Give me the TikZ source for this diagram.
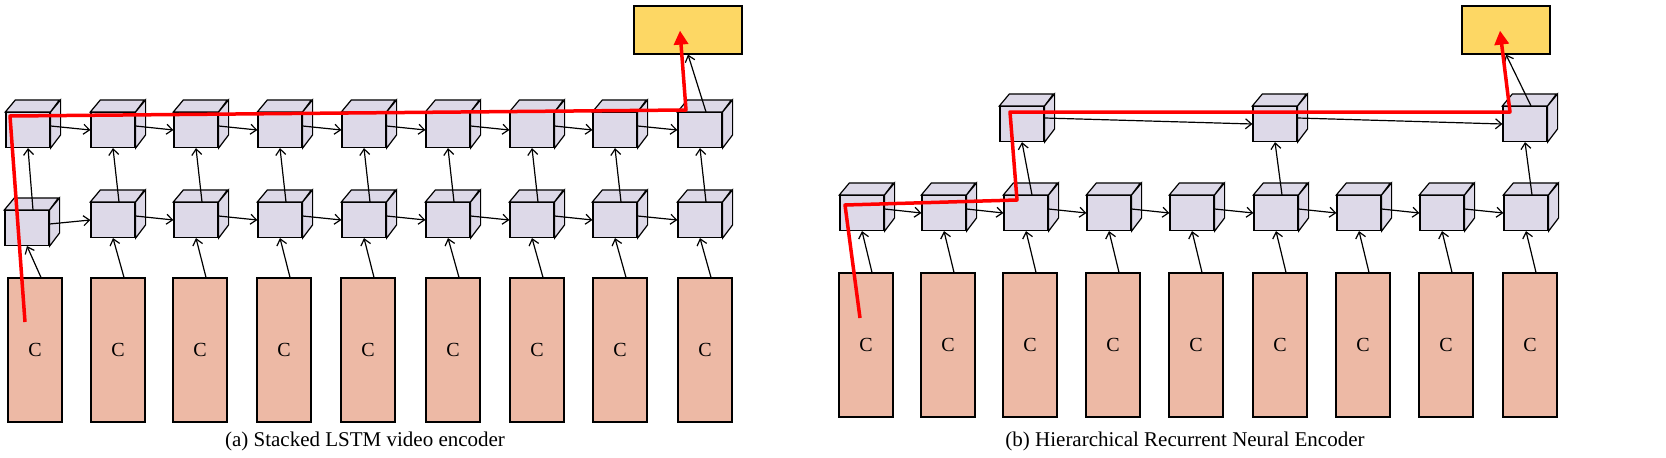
\documentclass[tikz,border=0pt]{standalone}
\usepackage{fontspec}
\setmainfont{Liberation Serif}
\usetikzlibrary{arrows.meta}
\definecolor{cubefill}{RGB}{221,217,232}
\definecolor{cfill}{RGB}{237,185,165}
\definecolor{outfill}{RGB}{253,215,100}
\tikzset{
  cube/.style={draw, fill=cubefill, line width=1.2pt, minimum width=44pt, minimum height=35pt, inner sep=0pt},
  cbox/.style={draw, fill=cfill, line width=1.2pt, minimum width=54pt, minimum height=144pt, inner sep=0pt, font=\fontsize{20}{22}\selectfont},
  outbox/.style={draw, fill=outfill, line width=1.2pt, minimum width=100pt, minimum height=48pt},
  link/.style={-{Straight Barb[length=6pt,width=10pt]}, line width=1.2pt},
  hot/.style={-{Triangle[length=14pt,width=14pt]}, draw=red, line width=3.5pt, line join=round},
  caption/.style={font=\fontsize{21}{24}\selectfont}
}
% top and right faces of a cube drawn on a front-face node
\newcommand\cubefaces[1]{%
  \filldraw[fill=cubefill, line width=1.2pt] (#1.north west) -- ++(10pt,12pt) -- ++(44pt,0) -- (#1.north east) -- cycle;
  \filldraw[fill=cubefill, line width=1.2pt] (#1.north east) -- ++(10pt,12pt) -- ++(0,-35pt) -- (#1.south east) -- cycle;}
\begin{document}
\begin{tikzpicture}[x=1pt,y=-1pt]
\useasboundingbox (0,0) rectangle (1666,458);
% ---------- (a) stacked LSTM ----------
\foreach \i/\x in {1/35,2/118,3/200,4/284,5/368,6/453,7/537,8/620,9/705}{
  \node[cbox] (ac\i) at (\x,350) {C};
}
\foreach \i/\x/\ym/\xm in {1/28/228/27,2/113/220/113,3/196/220/196,4/280/220/280,5/364/220/364,6/448/220/448,7/532/220/532,8/615/220/615,9/700/220/700}{
  \node[cube] (am\i) at (\xm,\ym) {};
  \cubefaces{am\i}
  \node[cube] (at\i) at (\x,130) {};
  \cubefaces{at\i}
}
\node[outbox, minimum width=108pt] (aout) at (688,30) {};
\foreach \i in {1,...,9}{
  \draw[link] ([xshift=6pt]ac\i.north) -- (am\i.south);
  \draw[link] ([xshift=6pt]am\i.north) -- (at\i.south);
}
\foreach \i [evaluate=\i as \j using int(\i+1)] in {1,...,8}{
  \draw[link] ([yshift=4pt]am\i.east) -- (am\j.west);
  \draw[link] ([yshift=4pt]at\i.east) -- (at\j.west);
}
\draw[link] ([xshift=6pt]at9.north) -- (aout.south);
\coordinate (ar1) at (25,322);
\coordinate (ar2) at (10,116);
\coordinate (ar3) at (686,110);
\draw[hot] (ar1) -- (ar2) -- (ar3) -- ([xshift=-8pt,yshift=24pt]aout.south);
\node[caption] (acap) at (365,441) {(a) Stacked LSTM video encoder};
% ---------- (b) hierarchical ----------
\foreach \i/\x in {1/866,2/948,3/1030,4/1113,5/1196,6/1280,7/1363,8/1446,9/1530}{
  \node[cbox] (bc\i) at (\x,345) {C};
  \node[cube] (bm\i) at (\x-4,213) {};
  \cubefaces{bm\i}
}
\foreach \i/\x in {3/1022,6/1275,9/1525}{
  \node[cube] (bt\i) at (\x,124) {};
  \cubefaces{bt\i}
}
\node[outbox, minimum width=88pt] (bout) at (1506,30) {};
\foreach \i in {1,...,9}{
  \draw[link] ([xshift=6pt]bc\i.north) -- (bm\i.south);
}
\foreach \i [evaluate=\i as \j using int(\i+1)] in {1,...,8}{
  \draw[link] ([yshift=4pt]bm\i.east) -- (bm\j.west);
}
\foreach \i in {3,6,9}{
  \draw[link] ([xshift=6pt]bm\i.north) -- (bt\i.south);
}
\draw[link] ([yshift=6pt]bt3.east) -- (bt6.west);
\draw[link] ([yshift=6pt]bt6.east) -- (bt9.west);
\draw[link] ([xshift=6pt]bt9.north) -- (bout.south);
\coordinate (br1) at (860,318);
\coordinate (br2) at (845,205);
\coordinate (br3) at (1017,200);
\coordinate (br4) at (1010,112);
\coordinate (br5) at (1510,112);
\draw[hot] (br1) -- (br2) -- (br3) -- (br4) -- (br5) -- ([xshift=-6pt,yshift=24pt]bout.south);
\node[caption] (bcap) at (1185,441) {(b) Hierarchical Recurrent Neural Encoder};
\end{tikzpicture}
\end{document}
